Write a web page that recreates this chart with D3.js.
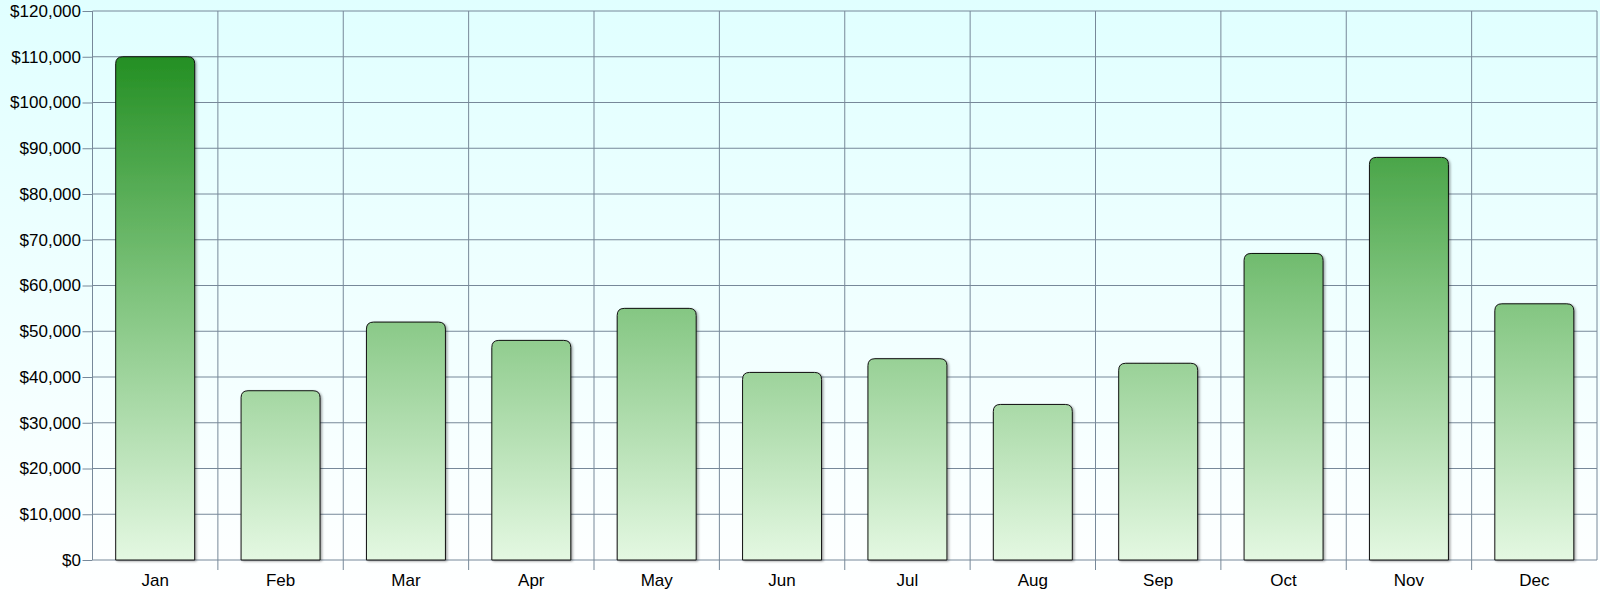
<!DOCTYPE html>
<html>
<head>
<meta charset="utf-8">
<script src="https://cdn.jsdelivr.net/npm/d3@7"></script>
<style>
  body { margin: 0; padding: 0; background: #fff; }
  svg { display: block; font-family: "Liberation Sans", Arial, sans-serif; }
</style>
</head>
<body>
<div id="chart"></div>
<script>
const months = ["Jan", "Feb", "Mar", "Apr", "May", "Jun", "Jul", "Aug", "Sep", "Oct", "Nov", "Dec"];
const sales = [110000, 37000, 52000, 48000, 55000, 41000, 44000, 34000, 43000, 67000, 88000, 56000];
const yTicks = [0, 10000, 20000, 30000, 40000, 50000, 60000, 70000, 80000, 90000, 100000, 110000, 120000];

const W = 1600, H = 600;
const margin = { top: 11, right: 3, bottom: 40, left: 92.5 };
const width = W - margin.left - margin.right;
const height = H - margin.top - margin.bottom;
const gridColor = "#778899";

const svg = d3.select("#chart")
  .append("svg")
  .attr("width", W)
  .attr("height", H);

const defs = svg.append("defs");

// page background: pale cyan fading to white
const bg = defs.append("linearGradient")
  .attr("id", "bg-grad")
  .attr("x1", "0%").attr("x2", "0%")
  .attr("y1", "0%").attr("y2", "100%");
bg.append("stop").attr("offset", "0%").attr("stop-color", "#e0ffff");
bg.append("stop").attr("offset", "100%").attr("stop-color", "#ffffff");

svg.append("rect")
  .attr("width", W)
  .attr("height", H)
  .attr("fill", "url(#bg-grad)");

const g = svg.append("g")
  .attr("transform", `translate(${margin.left},${margin.top})`);

const x = d3.scaleBand()
  .domain(months)
  .range([0, width])
  .padding(0);

const y = d3.scaleLinear()
  .domain([0, 120000])
  .range([height, 0]);

// bar gradient spans the whole plot height, so taller bars get darker tops
const barGrad = defs.append("linearGradient")
  .attr("id", "bar-grad")
  .attr("gradientUnits", "userSpaceOnUse")
  .attr("x1", 0).attr("x2", 0)
  .attr("y1", y(120000)).attr("y2", y(0));
barGrad.append("stop").attr("offset", "0%").attr("stop-color", "#128512");
barGrad.append("stop").attr("offset", "50%").attr("stop-color", "#7cc27a");
barGrad.append("stop").attr("offset", "100%").attr("stop-color", "#e4f8e2");

const shadow = defs.append("filter")
  .attr("id", "bar-shadow")
  .attr("x", "-10%").attr("y", "-10%")
  .attr("width", "130%").attr("height", "130%");
shadow.append("feDropShadow")
  .attr("dx", 1.5)
  .attr("dy", 1)
  .attr("stdDeviation", 0.8)
  .attr("flood-color", "#000")
  .attr("flood-opacity", 0.35);

// horizontal grid
g.append("g")
  .selectAll("line")
  .data(yTicks)
  .join("line")
  .attr("x1", 0)
  .attr("x2", width)
  .attr("y1", d => y(d))
  .attr("y2", d => y(d))
  .attr("stroke", gridColor)
  .attr("stroke-width", 1);

// vertical grid at category boundaries (extends below as ticks)
const bounds = months.map(m => x(m)).concat([width]);
g.append("g")
  .selectAll("line")
  .data(bounds)
  .join("line")
  .attr("x1", d => d)
  .attr("x2", d => d)
  .attr("y1", 0)
  .attr("y2", (d, i) => (i === 0 || i === bounds.length - 1) ? height : height + 10)
  .attr("stroke", gridColor)
  .attr("stroke-width", 1);

// y axis
const yAxis = g.append("g")
  .call(d3.axisLeft(y)
    .tickValues(yTicks)
    .tickSize(10)
    .tickPadding(1.5)
    .tickFormat(d => "$" + d3.format(",")(d)));
yAxis.select(".domain").remove();
yAxis.selectAll(".tick line").attr("stroke", gridColor);
yAxis.selectAll(".tick text")
  .attr("fill", "#000")
  .style("font-size", "17px");

// x labels
const xAxis = g.append("g")
  .attr("transform", `translate(0,${height})`)
  .call(d3.axisBottom(x).tickSize(0).tickPadding(14));
xAxis.select(".domain").remove();
xAxis.selectAll(".tick text")
  .attr("fill", "#000")
  .style("font-size", "17px");

// bars with rounded top corners
const barW = x.bandwidth() * 0.63;
const r = 7;
function barPath(d, i) {
  const x0 = x(months[i]) + (x.bandwidth() - barW) / 2;
  const x1 = x0 + barW;
  const yTop = y(d);
  const yBot = y(0);
  return `M${x0},${yBot} L${x0},${yTop + r} Q${x0},${yTop} ${x0 + r},${yTop}` +
    ` L${x1 - r},${yTop} Q${x1},${yTop} ${x1},${yTop + r} L${x1},${yBot} Z`;
}

g.append("g")
  .selectAll("path")
  .data(sales)
  .join("path")
  .attr("d", barPath)
  .attr("fill", "url(#bar-grad)")
  .attr("stroke", "#111")
  .attr("stroke-width", 1)
  .attr("filter", "url(#bar-shadow)");
</script>
</body>
</html>
